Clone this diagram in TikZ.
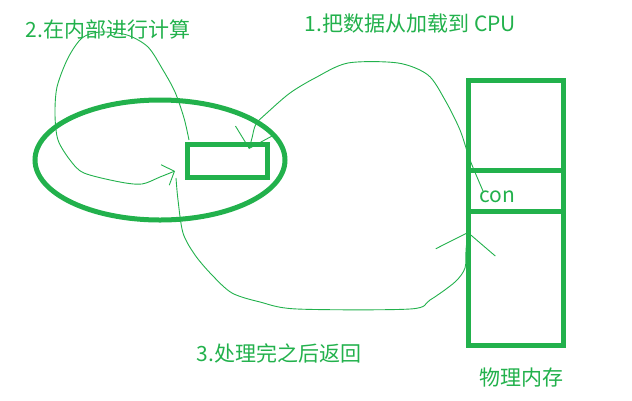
\documentclass[tikz,border=0pt]{standalone}
\usepackage{fontspec}
\newfontfamily\cjk{Noto Sans CJK SC}
\usepackage{tikz}
\usetikzlibrary{shapes.geometric, arrows.meta, positioning}
\definecolor{paint}{RGB}{34,177,76}
\tikzset{
	shell/.style = {
		draw=paint,
		line width=5pt,
		ellipse,
		inner sep=0pt,
		minimum width=250pt,
		minimum height=120pt
	},
	box/.style = {
		draw=paint,
		line width=5pt,
		rectangle,
		inner sep=0pt
	},
	note/.style = {
		text=paint,
		inner sep=0pt,
		font=\cjk\fontsize{21pt}{25pt}\selectfont
	},
	flow/.style = {
		paint,
		line width=0.9pt,
		-{Straight Barb[#1]}
	},
	flow/.default = {length=10pt,width=20pt}
}

\begin{document}
\begin{tikzpicture}[x=1pt, y=-1pt]
		\useasboundingbox (0,0) rectangle (632,400);
		% cpu and register
		\node[shell] (cpu) at (160,160) {};
		\node[box, minimum width=80pt, minimum height=33pt] (reg) at (227.5,161) {};
		% physical memory
		\node[box, minimum width=95.5pt, minimum height=265pt] (mem) at (515.75,213) {};
		\node[box, minimum width=95.5pt, minimum height=40.5pt] (cell) at (515.75,190.75) {};
		\node[note, anchor=west] (con) at ([xshift=14pt,yshift=-6pt]cell.west) {con};
		\node[note] (memlbl) at (521.5,377.5) {物理内存};
		
		\node[note] (load) at (410.5,24) {1.把数据从加载到 CPU};
		\node[note] (calc) at (108,29.5) {2.在内部进行计算};
		\node[note] (back) at (279,353.5) {3.处理完之后返回};
		
		\coordinate (loadstart) at (483,191);
		\coordinate (loadend) at (249,149);
		\coordinate (calcstart) at (189,140);
		\coordinate (calcend) at (175,171);
		\coordinate (backstart) at (176,178);
		\coordinate (backend) at (468,232);
		
		% 1. memory -> register
		\draw[flow={length=18pt,width=38pt}] plot[smooth, tension=0.5] coordinates {(loadstart) (470,160) (460,130) (445,100) (428,75) (398,63) (348,63) (315,78) (290,93) (268,112) (256,124) (252,138) (loadend)};
		% 2. loop inside
		\draw[flow={length=10pt,width=22pt}] plot[smooth, tension=0.5] coordinates {(calcstart) (184,118) (175,92) (163,70) (148,47) (127,35) (100,32) (82,38) (68,58) (57,87) (55,115) (58,140) (70,160) (84,173) (120,182) (142,184) (160,177) (calcend)};
		% 3. back to memory
		\draw[flow={length=20pt,width=60pt}] plot[smooth, tension=0.5] coordinates {(backstart) (178,200) (183,233) (195,255) (212,275) (232,293) (260,302) (297,309) (410,309) (430,300) (455,282) (465,268) (466,250) (backend)};
	\end{tikzpicture}
\end{document}
